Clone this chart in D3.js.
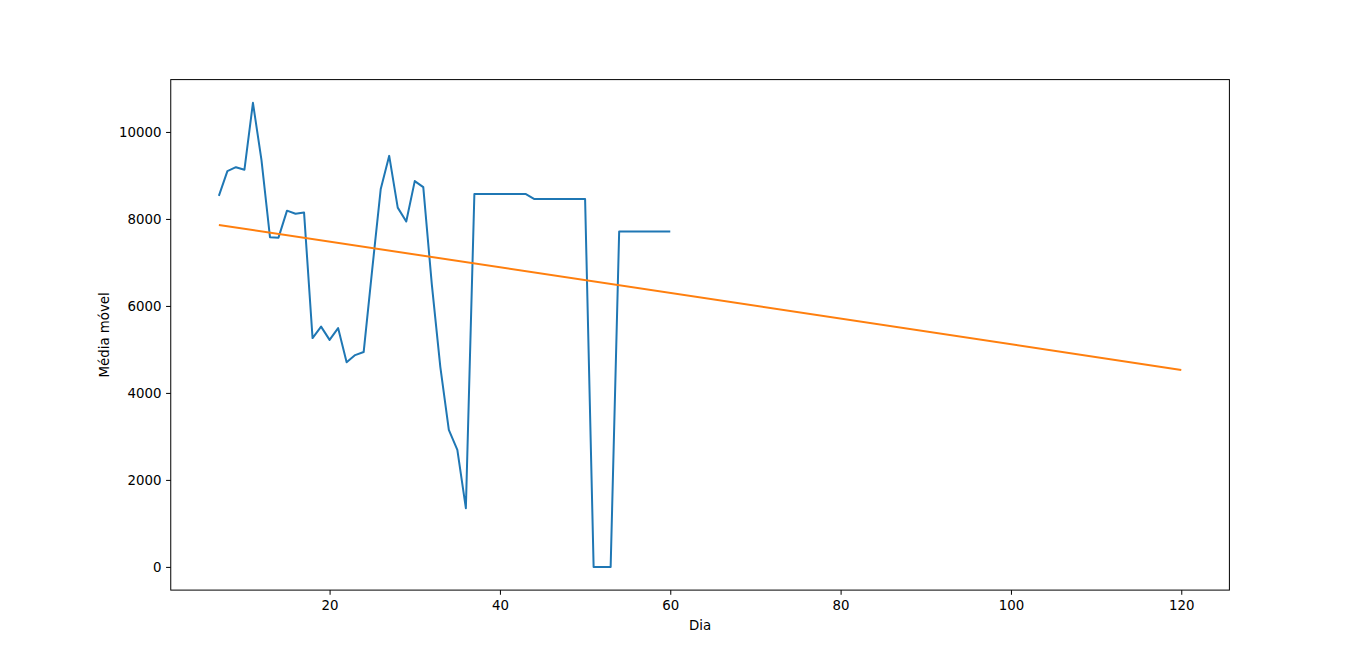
<!DOCTYPE html>
<html>
<head>
<meta charset="utf-8">
<script src="https://cdn.jsdelivr.net/npm/d3@7"></script>
<style>
  body { margin: 0; background: #fff; }
  text { font-family: "DejaVu Sans", sans-serif; fill: #000; }
</style>
</head>
<body>
<div id="chart"></div>
<script>
// Média móvel por dia (blue line)
const days = [7, 8, 9, 10, 11, 12, 13, 14, 15, 16, 17, 18, 19, 20, 21, 22, 23, 24, 25, 26,
  27, 28, 29, 30, 31, 32, 33, 34, 35, 36, 37, 38, 39, 40, 41, 42, 43, 44, 45, 46,
  47, 48, 49, 50, 51, 52, 53, 54, 55, 56, 57, 58, 59, 60];
const movingAvg = [8530, 9100, 9190, 9130, 10670, 9360, 7580, 7570, 8190, 8120, 8150, 5260, 5525, 5220, 5490, 4705, 4870, 4940, 6830, 8680,
  9450, 8260, 7940, 8870, 8730, 6500, 4600, 3150, 2690, 1350, 8575, 8575, 8575, 8575, 8575, 8575, 8575, 8460, 8460, 8460,
  8460, 8460, 8460, 8460, 0, 0, 0, 7710, 7710, 7710, 7710, 7710, 7710, 7710];

// trend line (orange)
const trendDays = [7, 120];
const trendValues = [7862, 4529];

const xTicks = [20, 40, 60, 80, 100, 120];
const yTicks = [0, 2000, 4000, 6000, 8000, 10000];

const W = 1366, H = 663;
const margin = { top: 79.6, right: 136.6, bottom: 72.9, left: 170.75 };
const width = W - margin.left - margin.right;
const height = H - margin.top - margin.bottom;

const svg = d3.select("#chart")
    .append("svg")
    .attr("width", W)
    .attr("height", H)
    .append("g")
    .attr("transform", "translate(" + margin.left + "," + margin.top + ")");

// matplotlib style 5% margins
const allX = days.concat(trendDays);
const allY = movingAvg.concat(trendValues);
const xMin = d3.min(allX), xMax = d3.max(allX);
const yMin = d3.min(allY), yMax = d3.max(allY);
const xPad = (xMax - xMin) * 0.05, yPad = (yMax - yMin) * 0.05;

const x = d3.scaleLinear()
    .domain([xMin - xPad, xMax + xPad])
    .range([0, width]);

const y = d3.scaleLinear()
    .domain([yMin - yPad, yMax + yPad])
    .range([height, 0]);

const line = d3.line()
    .x(d => x(d[0]))
    .y(d => y(d[1]));

svg.append("path")
    .datum(days.map((d, i) => [d, movingAvg[i]]))
    .attr("fill", "none")
    .attr("stroke", "#1f77b4")
    .attr("stroke-width", 2)
    .attr("stroke-linejoin", "round")
    .attr("d", line);

svg.append("path")
    .datum(trendDays.map((d, i) => [d, trendValues[i]]))
    .attr("fill", "none")
    .attr("stroke", "#ff7f0e")
    .attr("stroke-width", 2)
    .attr("d", line);

// axes
const xAxis = svg.append("g")
    .attr("transform", "translate(0," + height + ")")
    .call(d3.axisBottom(x).tickValues(xTicks).tickFormat(d3.format("d"))
        .tickSize(4.67).tickPadding(6).tickSizeOuter(0));

const yAxis = svg.append("g")
    .call(d3.axisLeft(y).tickValues(yTicks).tickFormat(d3.format("d"))
        .tickSize(4.67).tickPadding(4.67).tickSizeOuter(0));

[xAxis, yAxis].forEach(g => {
    g.select(".domain").remove();
    g.selectAll("line").attr("stroke", "#000").attr("stroke-width", 1);
    g.selectAll("text")
        .style("font-family", "DejaVu Sans, sans-serif")
        .style("font-size", "13.33px")
        .attr("fill", "#000");
});

// frame
svg.append("rect")
    .attr("x", 0)
    .attr("y", 0)
    .attr("width", width)
    .attr("height", height)
    .attr("fill", "none")
    .attr("stroke", "#000")
    .attr("stroke-width", 1);

// labels
svg.append("text")
    .attr("x", width / 2)
    .attr("y", height + 40)
    .attr("text-anchor", "middle")
    .style("font-size", "13.33px")
    .text("Dia");

svg.append("text")
    .attr("transform", "translate(" + (-62) + "," + (height / 2) + ") rotate(-90)")
    .attr("text-anchor", "middle")
    .style("font-size", "13.33px")
    .text("Média móvel");
</script>
</body>
</html>
